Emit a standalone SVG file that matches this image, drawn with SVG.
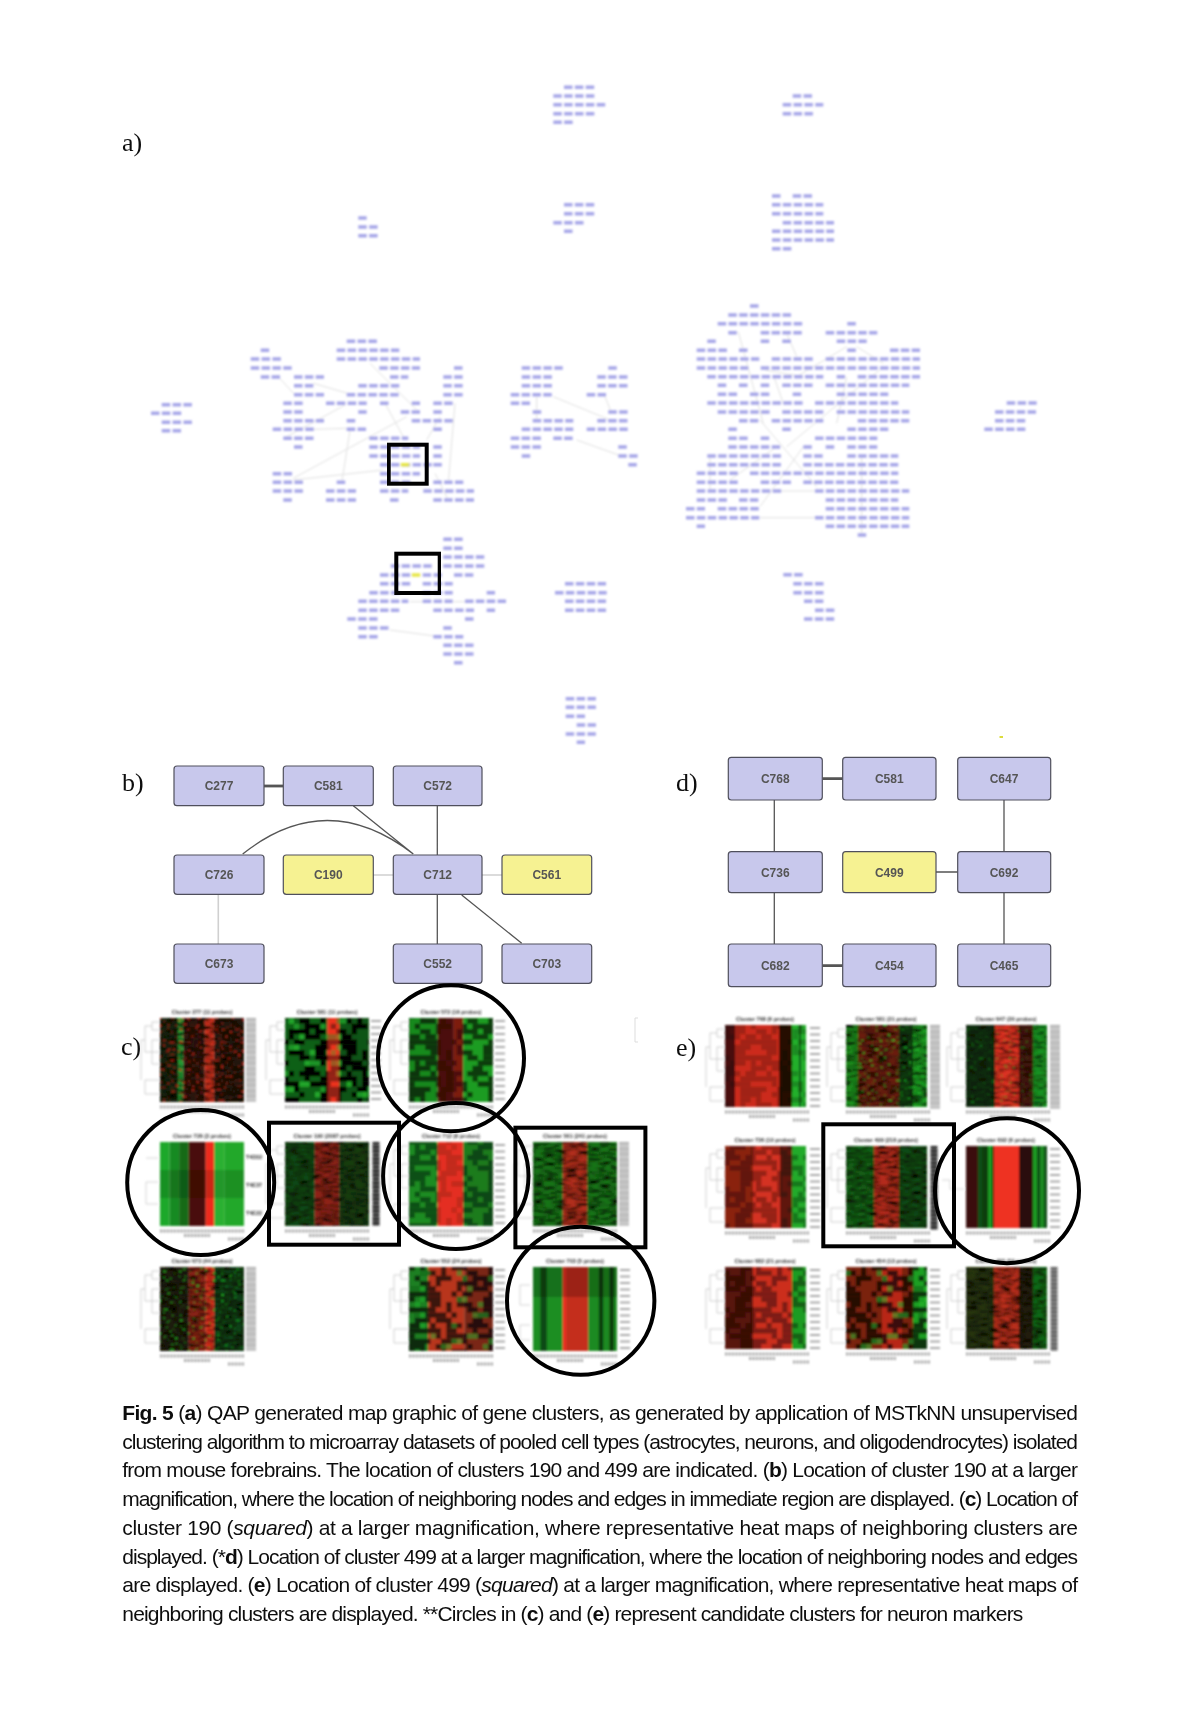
<svg xmlns="http://www.w3.org/2000/svg" width="1200" height="1712" viewBox="0 0 1200 1712">
<style>
.c{fill:none;stroke:#a6a6e8;stroke-width:3.4;stroke-dasharray:8.500 2.350}
.y{fill:none;stroke:#e6e640;stroke-width:3.4}
.ed{fill:none;stroke:#e0e0e0;stroke-width:1}
.lab{font-family:"Liberation Serif",serif;font-size:26px;fill:#111}
.nd rect{fill:#c8c8ec;stroke:#50505c;stroke-width:1.2}
.nd.hl rect{fill:#f6f292}
.nd text{font-family:"Liberation Sans",Arial,sans-serif;font-size:12px;fill:#555;text-anchor:middle;font-weight:bold}
.dk{fill:none;stroke:#555;stroke-width:1.3}
.lt{fill:none;stroke:#d0d0d0;stroke-width:1.6}
.db{fill:none;stroke:#555;stroke-width:2.8}
.hc rect{height:84px}
.he rect{height:82px}
.nc{width:84px;height:84px}
.ne{width:81px;height:82px}
.t{font-family:"Liberation Sans",Arial,sans-serif;font-size:5.500px;font-weight:bold;fill:#333;text-anchor:middle}
.mark{fill:none;stroke:#000;stroke-width:4}
.cap{font-family:"Liberation Sans",Arial,sans-serif;font-size:21px;fill:#111}
.it{font-style:italic}
.bd{font-weight:bold}
.pr{fill:none;stroke-width:5.300}
</style>
<defs>
<filter id="b1" x="-5%" y="-5%" width="110%" height="110%"><feGaussianBlur stdDeviation="1.050"/></filter>
<filter id="b2" x="-2%" y="-2%" width="104%" height="104%"><feGaussianBlur stdDeviation="0.900"/></filter>
<filter id="b3" x="-2%" y="-2%" width="104%" height="104%"><feGaussianBlur stdDeviation="0.550"/></filter>
<filter id="fd" x="0" y="0" width="100%" height="100%" color-interpolation-filters="sRGB"><feTurbulence type="fractalNoise" baseFrequency="0.09 0.6" numOctaves="2" seed="3"/><feColorMatrix values="0 0 0 0 0.02 0 0 0 0 0.02 0 0 0 0 0 3.500 0 0 0 -1.500"/></filter>
<filter id="fg" x="0" y="0" width="100%" height="100%" color-interpolation-filters="sRGB"><feTurbulence type="fractalNoise" baseFrequency="0.24 0.55" numOctaves="1" seed="8"/><feColorMatrix values="0 0 0 0 0.1 0 0 0 0 0.7 0 0 0 0 0.15 0 9 0 0 -5.700"/></filter>
<filter id="fr" x="0" y="0" width="100%" height="100%" color-interpolation-filters="sRGB"><feTurbulence type="fractalNoise" baseFrequency="0.24 0.55" numOctaves="1" seed="12"/><feColorMatrix values="0 0 0 0 0.7 0 0 0 0 0.14 0 0 0 0 0.08 0 0 9 0 -5.500"/></filter>
<pattern id="pd" patternUnits="userSpaceOnUse" width="84" height="84">
<g class="pr" stroke="#050503">
<path stroke-dasharray="5.250 10.500 10.500 21 5.250 15.750 15.750" d="M0 2.600H84"/>
<path stroke-dasharray="10.500 15.750 5.250 5.250 15.750 21 10.500" stroke-dashoffset="5.250" d="M0 7.900H84"/>
<path stroke-dasharray="15.750 5.250 5.250 21 10.500 10.500 5.250 10.500" d="M0 13.100H84"/>
<path stroke-dasharray="5.250 21 15.750 10.500 5.250 5.250 21" stroke-dashoffset="10.500" d="M0 18.400H84"/>
<path stroke-dasharray="10.500 5.250 5.250 15.750 21 5.250 10.500 10.500" d="M0 23.600H84"/>
<path stroke-dasharray="5.250 15.750 10.500 21 5.250 10.500 15.750" stroke-dashoffset="15.750" d="M0 28.900H84"/>
<path stroke-dasharray="21 10.500 5.250 5.250 10.500 15.750 15.750" d="M0 34.100H84"/>
<path stroke-dasharray="5.250 5.250 15.750 15.750 5.250 21 15.750" stroke-dashoffset="5.250" d="M0 39.400H84"/>
<path stroke-dasharray="10.500 21 10.500 5.250 5.250 5.250 15.750 10.500" stroke-dashoffset="21" d="M0 44.600H84"/>
<path stroke-dasharray="15.750 10.500 5.250 15.750 10.500 5.250 21" d="M0 49.900H84"/>
<path stroke-dasharray="5.250 10.500 21 5.250 5.250 21 15.750" stroke-dashoffset="10.500" d="M0 55.100H84"/>
<path stroke-dasharray="10.500 5.250 15.750 21 10.500 15.750 5.250" d="M0 60.400H84"/>
<path stroke-dasharray="5.250 21 5.250 10.500 15.750 5.250 21" stroke-dashoffset="15.750" d="M0 65.600H84"/>
<path stroke-dasharray="21 5.250 10.500 15.750 5.250 10.500 15.750" d="M0 70.900H84"/>
<path stroke-dasharray="5.250 15.750 5.250 5.250 21 10.500 21" stroke-dashoffset="5.250" d="M0 76.100H84"/>
<path stroke-dasharray="10.500 10.500 15.750 5.250 5.250 21 15.750" d="M0 81.400H84"/>
</g></pattern>
<pattern id="pg" patternUnits="userSpaceOnUse" width="84" height="84">
<g class="pr" stroke="#24b82e">
<path stroke-dasharray="5.250 36.750 10.500 31.500" stroke-dashoffset="21" d="M0 2.600H84"/>
<path stroke-dasharray="10.500 26.250 5.250 42" d="M0 13.100H84"/>
<path stroke-dasharray="5.250 21 5.250 52.500" stroke-dashoffset="42" d="M0 18.400H84"/>
<path stroke-dasharray="15.750 42 5.250 21" stroke-dashoffset="10.500" d="M0 28.900H84"/>
<path stroke-dasharray="5.250 31.500 10.500 36.750" d="M0 39.400H84"/>
<path stroke-dasharray="5.250 15.750 5.250 57.750" stroke-dashoffset="26.250" d="M0 44.600H84"/>
<path stroke-dasharray="10.500 47.250 15.750 10.500" stroke-dashoffset="5.250" d="M0 55.100H84"/>
<path stroke-dasharray="5.250 26.250 5.250 47.250" d="M0 65.600H84"/>
<path stroke-dasharray="10.500 36.750 5.250 31.500" stroke-dashoffset="36.750" d="M0 76.100H84"/>
<path stroke-dasharray="5.250 42 10.500 26.250" stroke-dashoffset="15.750" d="M0 81.400H84"/>
</g></pattern>
<path id="den" fill="none" stroke="#c4c4c4" stroke-width="0.800" d="M16 4h7M16 12h7M16 4v8M9 8h7M9 8v26M16 22h7M16 34h7M16 22v24M16 46h7M9 34h7M5 22h4M5 22v40M9 62h7M9 62v14M16 62h7M9 76h14"/>
<path id="tk" fill="none" stroke="#aaa" stroke-width="2.800" stroke-dasharray="2.400 1" d="M0 5h84M24 9.500h26M68 13h16"/>
<path id="gs" fill="none" stroke="#aaa" stroke-width="10" stroke-dasharray="2 4.500" d="M5 2v80"/>
<path id="gd" fill="none" stroke="#a0a0a0" stroke-width="10" stroke-dasharray="1.400 .8" d="M5 0v84"/>
<path id="gk" fill="none" stroke="#222" stroke-width="7" stroke-dasharray="2 .4" d="M4 0v84"/>
</defs>
<rect width="1200" height="1712" fill="#fff"/>

<g id="panel-a" filter="url(#b1)">
<g id="edges-a">
<path class="ed" d="M370 363.3L416.7 410M385 403.3L405 440M406.7 416.7L293.3 478.3M293.3 480L383.3 470M350 430L341.7 483.3M313.3 383.3L353.3 395M276.7 375L295 395M345 405L286.7 436.7M313.3 429.3L346.7 428.3M455 403.3L448.3 483.3M435 473.3L448.3 500M440 416.7L426.7 440M536.7 396.7V420M553.3 396.7L610 420M576.7 440L623.3 456.7M605 396.7L611.7 413.3M390 630L440 636.7M410 601.7H423.3M453.3 601.7H465"/>
<path class="ed" d="M738.3 331.7L763.3 423.3M765 370L803.3 376.7M773.3 375L783.3 403.3M846.7 346.7L796.7 376.7M883.3 366.7L786.7 446.7M856.7 346.7L883.3 363.3M846.7 376.7L836.7 423.3M760 420L816.7 486.7M776.7 446.7L730 480M803.3 446.7L760 506.7M760 517.7H816.7M780 491H816.7M861.7 456.7V536.7M710 456.7V490M786.7 333.3L796.7 356.7"/>
</g>
<path id="cl-a1" class="c" d="M564 87.3h31M553.3 96h41.700M553.3 104.700h52.700M553.3 113.700h41.700M553.3 122.300h20"/>
<path id="cl-a2" class="c" d="M792.700 96h20.600M782.700 104.700h40.600M782.700 113.700h30.600"/>
<path id="cl-a3" class="c" d="M358.300 218h8.400M358.300 227h20M358.300 235.700h20"/>
<path id="cl-a4" class="c" d="M564 204.700h31M564 213.700h31M553.300 222.700h30.700M564 231.300h9.300"/>
<path id="cl-a5" class="c" d="M772 196h9.300M792.700 196h20.600M772 204.700h51.300M772 213.700h51.300M782.700 222.700h51.300M772 231.300h62M772 240h62M772 248.700h20"/>
<path id="cl-a6" class="c" d="M161.700 404.700h30.600M151 413.300h30.700M161.700 422.300h30.600M161.700 430.700h20"/>
<path id="cl-a7" class="c" d="M346.700 341.300h31.300M260.700 350.300h10M336.700 350.300h62.600M250.700 359h30.300M336.700 359h83.300M250.700 368h41M379.300 368h40.700M454 368h9.300M260.700 377h20.600M294 377h30M390 377h18.300M443.300 377h20M294 385.700h20M358.300 385.700h41M443.300 385.700h20M294 394.700h30M346.700 394.700h52.600M443.300 394.700h20M283.300 403.300h20M326 403.300h40.700M380 403.300h9.300M411.700 403.300h8.300M433.300 403.300h20M283.300 412h20M358.300 412h8.400M400.700 412h19.300M433.300 412h9.400M283.300 420.700h40.700M346.700 420.700h9.300M411.700 420.700h41.600M272.700 429.300h41.300M346.700 429.300h20M433.300 429.300h9.400M283.300 438.300h30.700M369.300 438.300h39M294 447h9.300M369.300 447h50.700M433.300 447h9.400M369.300 456h50.700M433.300 456h9.400M380 464.700h51.700M433.300 464.700h9.400M272.700 473.700h20M380 473.700h40M272.700 482.300h30.600M336.700 482.300h9.300M380 482.300h31.700M433.300 482.300h30M272.700 491h30.600M326 491h30M380 491h28.300M423.300 491h50.700M283.300 500h9.400M326 500h30M390 500h9.300M433.300 500h40.700"/>
<path class="y" d="M400.700 464.700h8.600"/>
<path id="cl-a8" class="c" d="M521.700 368h41.600M608.300 368h9M521.700 377h31M597.300 377h31M521.700 385.700h31M597.300 385.700h31M510.700 394.700h42M586.700 394.700h20M510.700 403.300h20M532.700 412h9M608.300 412h20M532.700 420.700h40.600M597.300 420.700h31M521.700 429.300h51.600M586.700 429.300h41.600M510.700 438.300h31M553.300 438.300h20M510.700 447h31M618.300 447h10M521.700 456h9M618.300 456h20M628.300 464.700h10"/>
<path id="cl-a9" class="c" d="M443.300 539.300h20M443.300 548.300h20M443.300 557h41M390.700 566h41M443.300 566h41M380 575h31.700M422.700 575h19M454 575h20M380 583.700h31.700M422.700 583.700h30M369.300 592.700h30.700M422.700 592.700h30M486.700 592.700h8.300M358.300 601.300h50M422.700 601.300h30M465 601.300h41M358.300 610.300h41M433.300 610.300h40.700M486.700 610.300h8.300M347.300 619h31M465 619h9M358.300 628h31M443.300 628h10M358.300 636.700h20M433.300 636.700h30M443.300 645.300h30.700M443.300 654h30.700M454 662.700h9.300"/>
<path class="y" d="M411.700 575h8.600"/>
<path id="cl-a10" class="c" d="M565 583.700h41.700M555 592.700h51.700M565 601.300h41.700M565 610.300h41.700"/>
<path id="cl-a11" class="c" d="M783.300 574.700h20M793.300 583.700h30.700M793.300 592.700h30.700M804 601.300h20M815 610.300h20M804 619h31"/>
<path id="cl-a12" class="c" d="M565.700 698.700h30.300M565.700 707.300h30.300M565.700 716.300h19.300M576.700 725h19.300M565.700 734h30.300M576.700 742.300h8.300"/>
<path id="cl-a13" class="c" d="M750 306h9.300M728.300 315h63.400M717.700 323.700h85M847.300 323.700h8.700M728.300 332.700h10M760.700 332.700h42M825.700 332.700h51.600M707.300 341.300h8.700M760.700 341.300h10M782.300 341.300h9.400M836.700 341.300h30M696.700 350.300h30.600M739 350.300h9.300M847.300 350.300h8.700M890 350.300h30M696.700 359h62.600M771.700 359h41.600M825.700 359h94.300M696.700 368h51.600M760.700 368h159.300M707.300 376.700h116M836.700 376.700h8.300M857.700 376.700h62.300M717.700 385.300h9.600M739 385.300h9.300M760.700 385.300h10M782.300 385.300h31M825.700 385.300h83.600M717.700 394.300h20.600M750 394.300h20M792.700 394.300h10M836.700 394.300h51.600M707.300 403h95.400M815 403h83.300M717.700 412h52.300M782.300 412h41M836.700 412h72.600M739 420.700h20.300M771.700 420.700h51.600M857.700 420.700h51.600M728.300 429.300h10M782.300 429.300h9.400M847.300 429.300h41M728.300 438.300h20M760.700 438.300h9.300M815 438.300h62.300M728.300 447h53.400M803.300 447h9.400M825.700 447h9.300M847.300 447h30M707.300 456h74.400M803.300 456h20M847.300 456h51M707.300 464.700h74.400M803.300 464.700h95M696.700 473.300h41.600M750 473.300h148.300M696.700 482.300h41.600M760.700 482.300h31M803.300 482.300h95M696.700 491h85M815 491h94.300M696.700 500h30.600M739 500h20.300M825.700 500h72.600M686 508.700h19M717.700 508.700h41.600M825.700 508.700h83.600M686 517.700h73.300M815 517.700h94.300M696.700 526.300h8.300M825.700 526.300h83.600M857.700 535h9"/>
<path id="cl-a14" class="c" d="M1006.700 403h30M995 412h41.700M995 420.700h31M984.300 429.300h41.700"/>
</g>
<path id="dot" d="M999.500 737h3.500" fill="none" stroke="#dcdc3c" stroke-width="2"/>

<g id="labels" filter="url(#b3)">
<text class="lab" x="122" y="151">a)</text>
<text class="lab" x="122" y="791">b)</text>
<text class="lab" x="121" y="1055">c)</text>
<text class="lab" x="676" y="791">d)</text>
<text class="lab" x="676" y="1056">e)</text>
</g>

<g id="marks-a" filter="url(#b3)">
<rect class="mark" x="388.700" y="444.700" width="38" height="39"/>
<rect class="mark" x="396.300" y="553.700" width="43.400" height="39.300"/>
</g>

<g filter="url(#b3)">
<g id="connectors-b">
<path class="db" d="M264 786H283.300"/>
<path class="dk" d="M437.300 805.700V855M353.300 805.700L413.300 854M437.300 894.300V944M461.700 895L521.700 943.300M242.700 854Q326.700 787 413.300 854"/>
<path class="lt" d="M373.300 875H393.300M482 875H502M218.300 894.300V944"/>
</g>
<g id="node-b-C277" class="nd"><rect x="174" y="766" width="90" height="39.700" rx="3"/><text x="219" y="790">C277</text></g>
<g id="node-b-C581" class="nd"><rect x="283.300" y="766" width="90" height="39.700" rx="3"/><text x="328.300" y="790">C581</text></g>
<g id="node-b-C572" class="nd"><rect x="393.300" y="766" width="88.700" height="39.700" rx="3"/><text x="437.700" y="790">C572</text></g>
<g id="node-b-C726" class="nd"><rect x="174" y="855" width="90" height="39.300" rx="3"/><text x="219" y="879">C726</text></g>
<g id="node-b-C190" class="nd hl"><rect x="283.300" y="855" width="90" height="39.300" rx="3"/><text x="328.300" y="879">C190</text></g>
<g id="node-b-C712" class="nd"><rect x="393.300" y="855" width="88.700" height="39.300" rx="3"/><text x="437.700" y="879">C712</text></g>
<g id="node-b-C561" class="nd hl"><rect x="502" y="855" width="89.700" height="39.300" rx="3"/><text x="546.800" y="879">C561</text></g>
<g id="node-b-C673" class="nd"><rect x="174" y="944" width="90" height="39.300" rx="3"/><text x="219" y="968">C673</text></g>
<g id="node-b-C552" class="nd"><rect x="393.300" y="944" width="88.700" height="39.300" rx="3"/><text x="437.700" y="968">C552</text></g>
<g id="node-b-C703" class="nd"><rect x="502" y="944" width="89.700" height="39.300" rx="3"/><text x="546.800" y="968">C703</text></g>

<g id="connectors-d">
<path class="db" d="M822.300 778.700H842.700M822.300 965.700H842.700"/>
<path class="dk" d="M774.300 800V851.700M774.300 892.700V944M1004 800V851.700M1004 892.700V944M936 872H957.700"/>
</g>
<g id="node-d-C768" class="nd"><rect x="728.300" y="757.300" width="94" height="42.700" rx="3"/><text x="775.300" y="783">C768</text></g>
<g id="node-d-C581" class="nd"><rect x="842.700" y="757.300" width="93.300" height="42.700" rx="3"/><text x="889.300" y="783">C581</text></g>
<g id="node-d-C647" class="nd"><rect x="957.700" y="757.300" width="93" height="42.700" rx="3"/><text x="1004" y="783">C647</text></g>
<g id="node-d-C736" class="nd"><rect x="728.300" y="851.700" width="94" height="41" rx="3"/><text x="775.300" y="876.500">C736</text></g>
<g id="node-d-C499" class="nd hl"><rect x="842.700" y="851.700" width="93.300" height="41" rx="3"/><text x="889.300" y="876.500">C499</text></g>
<g id="node-d-C692" class="nd"><rect x="957.700" y="851.700" width="93" height="41" rx="3"/><text x="1004" y="876.500">C692</text></g>
<g id="node-d-C682" class="nd"><rect x="728.300" y="944" width="94" height="42.700" rx="3"/><text x="775.300" y="969.500">C682</text></g>
<g id="node-d-C454" class="nd"><rect x="842.700" y="944" width="93.300" height="42.700" rx="3"/><text x="889.300" y="969.500">C454</text></g>
<g id="node-d-C465" class="nd"><rect x="957.700" y="944" width="93" height="42.700" rx="3"/><text x="1004" y="969.500">C465</text></g>
</g>

<g id="heatmaps" filter="url(#b2)">
<g id="hm-c277"><text class="t" x="202" y="1014">Cluster 277 (11 probes)</text><use href="#den" x="136" y="1018"/>
<g class="hc" transform="translate(160,1018) scale(1.063,1)"><rect width="17" fill="#14240a"/><rect x="17" width="5" fill="#1e9a30"/><rect x="22" width="20" fill="#2c1208"/><rect x="42" width="9" fill="#c8301c"/><rect x="51" width="28" fill="#241408"/></g>
<rect class="nc" x="160" y="1018" filter="url(#fd)"/><rect class="nc" x="160" y="1018" filter="url(#fr)"/><use href="#gd" x="246" y="1018"/><use href="#tk" x="160" y="1102"/></g>

<g id="hm-c581"><text class="t" x="327" y="1014">Cluster 581 (11 probes)</text><use href="#den" x="261" y="1018"/>
<g class="hc" transform="translate(285,1018) scale(1.063,1)"><rect width="40" fill="#0f6014"/><rect x="40" width="11" fill="#ec3320"/><rect x="51" width="28" fill="#0f5512"/></g>
<rect class="nc" x="285" y="1018" fill="url(#pd)"/><rect class="nc" x="285" y="1018" fill="url(#pg)" opacity=".8"/><rect x="327.500" y="1018" width="11.700" height="84" fill="#ec3320" opacity=".6"/><use href="#gs" x="371" y="1018"/><use href="#tk" x="285" y="1102"/></g>

<g id="hm-c572"><text class="t" x="451" y="1014">Cluster 572 (16 probes)</text><use href="#den" x="385" y="1018"/>
<g class="hc" transform="translate(409,1018) scale(1.063,1)"><rect width="27" fill="#168a1c"/><rect x="27" width="15" fill="#3a0a08"/><rect x="42" width="9" fill="#a82c16"/><rect x="51" width="28" fill="#1a9c22"/></g>
<rect class="nc" x="409" y="1018" fill="url(#pd)" opacity=".65"/><rect x="438" y="1018" width="25" height="84" fill="#5a1008" opacity=".55"/><use href="#gs" x="495" y="1018"/><use href="#tk" x="409" y="1102"/></g>

<g id="hm-c726"><text class="t" x="202" y="1138">Cluster 726 (3 probes)</text>
<path fill="none" stroke="#ccc" stroke-width="0.800" d="M146 1158h12M146 1182h12M146 1204h12M146 1182v22"/>
<g class="hc" transform="translate(160,1142) scale(1.063,1)"><rect width="9" fill="#1ea82a"/><rect x="9" width="9" fill="#178a20"/><rect x="18" width="9" fill="#126a18"/><rect x="27" width="16" fill="#4a0c08"/><rect x="43" width="8" fill="#ee2c1c"/><rect x="51" width="10" fill="#2ab030"/><rect x="61" width="18" fill="#22a82a"/></g>
<rect x="160" y="1170" width="84" height="28" fill="#000" opacity=".14"/><use href="#tk" x="160" y="1226"/>
<text class="t" x="254" y="1159">T4D32</text><text class="t" x="254" y="1187">T4E37</text><text class="t" x="254" y="1215">T4E22</text></g>

<g id="hm-c190"><text class="t" x="327" y="1138">Cluster 190 (2087 probes)</text><use href="#den" x="261" y="1142"/>
<g class="hc" transform="translate(285,1142) scale(1.063,1)"><rect width="28" fill="#104a12"/><rect x="28" width="23" fill="#8e2418"/><rect x="51" width="28" fill="#183e10"/></g>
<rect class="nc" x="285" y="1142" filter="url(#fd)"/><use href="#gk" x="372" y="1142"/><use href="#tk" x="285" y="1226"/></g>

<g id="hm-c712"><text class="t" x="451" y="1138">Cluster 712 (8 probes)</text><use href="#den" x="385" y="1142"/>
<g class="hc" transform="translate(409,1142) scale(1.063,1)"><rect width="27" fill="#1a8c20"/><rect x="27" width="24" fill="#e43020"/><rect x="51" width="28" fill="#1a7c1e"/></g>
<rect class="nc" x="409" y="1142" fill="url(#pd)" opacity=".45"/><rect x="438" y="1142" width="25" height="84" fill="#e43020" opacity=".65"/><use href="#gs" x="495" y="1142"/><use href="#tk" x="409" y="1226"/></g>

<g id="hm-c561"><text class="t" x="575" y="1138">Cluster 561 (241 probes)</text><use href="#den" x="509" y="1142"/>
<g class="hc" transform="translate(533,1142) scale(1.063,1)"><rect width="28" fill="#167418"/><rect x="28" width="23" fill="#b02e1a"/><rect x="51" width="28" fill="#167418"/></g>
<rect class="nc" x="533" y="1142" filter="url(#fd)"/><use href="#gd" x="619" y="1142"/><use href="#tk" x="533" y="1226"/></g>

<g id="hm-c673"><text class="t" x="202" y="1263">Cluster 673 (44 probes)</text><use href="#den" x="136" y="1267"/>
<g class="hc" transform="translate(160,1267) scale(1.063,1)"><rect width="27" fill="#1e1a0a"/><rect x="27" width="16" fill="#8a2212"/><rect x="43" width="8" fill="#e02e1c"/><rect x="51" width="28" fill="#0c3a12"/></g>
<rect class="nc" x="160" y="1267" filter="url(#fd)"/><rect class="nc" x="160" y="1267" filter="url(#fg)"/><use href="#gd" x="246" y="1267"/><use href="#tk" x="160" y="1351"/></g>

<g id="hm-c552"><text class="t" x="451" y="1263">Cluster 552 (24 probes)</text><use href="#den" x="385" y="1267"/>
<g class="hc" transform="translate(409,1267) scale(1.063,1)"><rect width="18" fill="#1a8020"/><rect x="18" width="34" fill="#b8341e"/><rect x="52" width="27" fill="#7a2814"/></g>
<rect class="nc" x="409" y="1267" fill="url(#pd)" opacity=".7"/><rect x="409" y="1267" width="84" height="84" fill="url(#pg)" opacity=".5"/><use href="#gs" x="495" y="1267"/><use href="#tk" x="409" y="1351"/></g>

<g id="hm-c703"><text class="t" x="575" y="1263">Cluster 703 (5 probes)</text>
<path fill="none" stroke="#ccc" stroke-width="0.800" d="M520 1285h10M520 1305h10M520 1285v20M520 1325h10M520 1340h10M520 1325v15"/>
<g class="hc" transform="translate(533,1267) scale(1.063,1)"><rect width="28" fill="#1e8e22"/><rect x="7" width="6" fill="#0f4a14"/><rect x="28" width="3" fill="#ee2c1c"/><rect x="31" width="21" fill="#c42e1c"/><rect x="52" width="27" fill="#1a8a20"/><rect x="62" width="4" fill="#0e3a10"/><rect x="72" width="4" fill="#0e3a10"/></g>
<rect x="533" y="1267" width="84" height="30" fill="#000" opacity=".2"/><use href="#gs" x="620" y="1267"/><use href="#tk" x="533" y="1351"/></g>

<g id="hm-e768"><text class="t" x="765" y="1021">Cluster 768 (6 probes)</text><use href="#den" x="701" y="1025"/>
<g class="he" transform="translate(725,1025)"><rect width="10" fill="#4a100a"/><rect x="10" width="44" fill="#cc2c1a"/><rect x="54" width="13" fill="#260a05"/><rect x="67" width="14" fill="#22b02a"/><rect x="74" width="2" fill="#0e5412"/></g>
<rect class="ne" x="725" y="1025" fill="url(#pd)" opacity=".22"/><use href="#gs" x="810" y="1025"/><use href="#tk" x="725" y="1107"/></g>

<g id="hm-e581"><text class="t" x="886" y="1021">Cluster 581 (31 probes)</text><use href="#den" x="822" y="1025"/>
<g class="he" transform="translate(846,1025)"><rect width="12" fill="#1a8a1a"/><rect x="12" width="41" fill="#6a1e0c"/><rect x="53" width="14" fill="#103a10"/><rect x="67" width="14" fill="#1a9a20"/></g>
<rect class="ne" x="846" y="1025" filter="url(#fd)"/><rect class="ne" x="846" y="1025" filter="url(#fg)"/><use href="#gd" x="930" y="1025"/><use href="#tk" x="846" y="1107"/></g>

<g id="hm-e647"><text class="t" x="1006" y="1021">Cluster 647 (30 probes)</text><use href="#den" x="942" y="1025"/>
<g class="he" transform="translate(966,1025)"><rect width="29" fill="#0e2e0e"/><rect x="29" width="24" fill="#dc3020"/><rect x="53" width="14" fill="#44140a"/><rect x="67" width="14" fill="#189020"/></g>
<rect class="ne" x="966" y="1025" filter="url(#fd)" opacity=".7"/><rect class="ne" x="966" y="1025" filter="url(#fg)" opacity=".6"/><use href="#gd" x="1050" y="1025"/><use href="#tk" x="966" y="1107"/></g>

<g id="hm-e736"><text class="t" x="765" y="1142">Cluster 736 (10 probes)</text><use href="#den" x="701" y="1146"/>
<g class="he" transform="translate(725,1146)"><rect width="28" fill="#8a2010"/><rect x="28" width="27" fill="#d43020"/><rect x="55" width="12" fill="#5e170c"/><rect x="67" width="14" fill="#22aa2a"/></g>
<rect class="ne" x="725" y="1146" fill="url(#pd)" opacity=".3"/><use href="#gs" x="810" y="1146"/><use href="#tk" x="725" y="1228"/></g>

<g id="hm-e499"><text class="t" x="886" y="1142">Cluster 499 (218 probes)</text><use href="#den" x="822" y="1146"/>
<g class="he" transform="translate(846,1146)"><rect width="28" fill="#126014"/><rect x="28" width="25" fill="#b42c1a"/><rect x="53" width="28" fill="#114c12"/></g>
<rect class="ne" x="846" y="1146" filter="url(#fd)"/><use href="#gk" x="930" y="1146"/><use href="#tk" x="846" y="1228"/></g>

<g id="hm-e692"><text class="t" x="1006" y="1142">Cluster 692 (6 probes)</text>
<path fill="none" stroke="#ccc" stroke-width="0.800" d="M942 1180h8v9h14"/>
<g class="he" transform="translate(966,1146)"><rect width="12" fill="#3a0a08"/><rect x="12" width="4" fill="#0f5012"/><rect x="16" width="8" fill="#0c3c0e"/><rect x="22" width="4" fill="#1e9a22"/><rect x="26" width="2" fill="#0a2e0a"/><rect x="28" width="25" fill="#ee3222"/><rect x="53" width="14" fill="#2a0f08"/><rect x="67" width="4" fill="#1e9a22"/><rect x="71" width="3" fill="#0f4a12"/><rect x="74" width="4" fill="#1a8a20"/><rect x="78" width="3" fill="#0f4a12"/></g>
<use href="#gs" x="1050" y="1146"/><use href="#tk" x="966" y="1228"/></g>

<g id="hm-e682"><text class="t" x="765" y="1263">Cluster 682 (21 probes)</text><use href="#den" x="701" y="1267"/>
<g class="he" transform="translate(725,1267)"><rect width="28" fill="#581208"/><rect x="28" width="39" fill="#cc2e1c"/><rect x="67" width="14" fill="#1c9c22"/></g>
<rect class="ne" x="725" y="1267" fill="url(#pd)" opacity=".4"/><use href="#gs" x="810" y="1267"/><use href="#tk" x="725" y="1349"/></g>

<g id="hm-e454"><text class="t" x="886" y="1263">Cluster 454 (13 probes)</text><use href="#den" x="822" y="1267"/>
<g class="he" transform="translate(846,1267)"><rect width="67" fill="#7a200e"/><rect x="36" width="20" fill="#b82816"/><rect x="67" width="14" fill="#1aa020"/></g>
<rect class="ne" x="846" y="1267" fill="url(#pd)" opacity=".7"/><rect class="ne" x="846" y="1267" fill="url(#pg)" opacity=".55"/><use href="#gs" x="930" y="1267"/><use href="#tk" x="846" y="1349"/></g>

<g id="hm-e465"><text class="t" x="1006" y="1263">Cluster 465 (50 probes)</text><use href="#den" x="942" y="1267"/>
<g class="he" transform="translate(966,1267)"><rect width="28" fill="#26340e"/><rect x="28" width="25" fill="#b82e1a"/><rect x="53" width="14" fill="#241e0a"/><rect x="67" width="14" fill="#106c16"/></g>
<rect class="ne" x="966" y="1267" filter="url(#fd)"/><use href="#gk" x="1050" y="1267" opacity=".75"/><use href="#tk" x="966" y="1349"/></g>
</g>

<path id="bracket" d="M638 1018h-3v24h3" fill="none" stroke="#ddd" stroke-width="1"/>

<g id="marks-c" filter="url(#b3)">
<ellipse class="mark" cx="451" cy="1058.300" rx="73" ry="73"/>
<ellipse class="mark" cx="200.700" cy="1182.500" rx="73.500" ry="72.500"/>
<ellipse class="mark" cx="455.800" cy="1176" rx="72.700" ry="73"/>
<ellipse class="mark" cx="580.700" cy="1300.800" rx="73.700" ry="74"/>
<rect class="mark" x="269" y="1122.700" width="130" height="122"/>
<rect class="mark" x="515.400" y="1127.700" width="130" height="119.600"/>
</g>
<g id="marks-e" filter="url(#b3)">
<rect class="mark" x="823.300" y="1124.300" width="130.700" height="122"/>
<ellipse class="mark" cx="1007" cy="1190.700" rx="72" ry="72.500"/>
</g>

<g id="caption" filter="url(#b3)">
<text class="cap" x="122.300" y="1420" textLength="955.700"><tspan class="bd">Fig. 5</tspan> (<tspan class="bd">a</tspan>) QAP generated map graphic of gene clusters, as generated by application of MSTkNN unsupervised</text>
<text class="cap" x="122.300" y="1448.700" textLength="955.700">clustering algorithm to microarray datasets of pooled cell types (astrocytes, neurons, and oligodendrocytes) isolated</text>
<text class="cap" x="122.300" y="1477.400" textLength="955.700">from mouse forebrains. The location of clusters 190 and 499 are indicated. (<tspan class="bd">b</tspan>) Location of cluster 190 at a larger</text>
<text class="cap" x="122.300" y="1506.100" textLength="955.700">magnification, where the location of neighboring nodes and edges in immediate region are displayed. (<tspan class="bd">c</tspan>) Location of</text>
<text class="cap" x="122.300" y="1534.800" textLength="955.700">cluster 190 (<tspan class="it">squared</tspan>) at a larger magnification, where representative heat maps of neighboring clusters are</text>
<text class="cap" x="122.300" y="1563.500" textLength="955.700">displayed. (*<tspan class="bd">d</tspan>) Location of cluster 499 at a larger magnification, where the location of neighboring nodes and edges</text>
<text class="cap" x="122.300" y="1592.200" textLength="955.700">are displayed. (<tspan class="bd">e</tspan>) Location of cluster 499 (<tspan class="it">squared</tspan>) at a larger magnification, where representative heat maps of</text>
<text class="cap" x="122.300" y="1620.900" textLength="901">neighboring clusters are displayed. **Circles in (<tspan class="bd">c</tspan>) and (<tspan class="bd">e</tspan>) represent candidate clusters for neuron markers</text>
</g>
</svg>
